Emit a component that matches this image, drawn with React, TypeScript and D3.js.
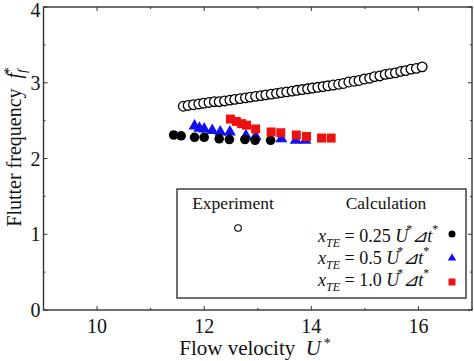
import React from "react";
import * as d3 from "d3";

const expU = [11.61, 11.70, 11.80, 11.90, 11.99, 12.09, 12.19, 12.28, 12.38, 12.48, 12.57, 12.67, 12.77, 12.86, 12.96, 13.06, 13.15, 13.25, 13.35, 13.44, 13.54, 13.64, 13.73, 13.83, 13.93, 14.02, 14.12, 14.22, 14.31, 14.41, 14.51, 14.60, 14.70, 14.80, 14.89, 14.99, 15.09, 15.18, 15.28, 15.38, 15.47, 15.57, 15.67, 15.76, 15.86, 15.96, 16.07];
const expF = [2.69, 2.70, 2.71, 2.72, 2.73, 2.74, 2.75, 2.75, 2.76, 2.77, 2.78, 2.79, 2.80, 2.81, 2.82, 2.83, 2.84, 2.85, 2.86, 2.87, 2.88, 2.89, 2.90, 2.91, 2.92, 2.93, 2.94, 2.95, 2.96, 2.97, 2.98, 2.99, 3.01, 3.02, 3.03, 3.05, 3.06, 3.08, 3.09, 3.11, 3.12, 3.13, 3.15, 3.16, 3.18, 3.19, 3.21];

const calc025U = [11.43, 11.57, 11.82, 12.00, 12.28, 12.47, 12.76, 12.95, 13.24];
const calc025F = [2.31, 2.30, 2.28, 2.28, 2.26, 2.25, 2.25, 2.24, 2.24];

const calc05U = [11.82, 11.91, 12.00, 12.15, 12.30, 12.48, 12.78, 12.96, 13.44, 13.71, 13.89];
const calc05F = [2.43, 2.40, 2.39, 2.37, 2.35, 2.35, 2.30, 2.29, 2.26, 2.24, 2.24];

const calc10U = [12.49, 12.60, 12.70, 12.79, 12.96, 13.25, 13.43, 13.72, 13.91, 14.19, 14.37];
const calc10F = [2.52, 2.49, 2.46, 2.44, 2.39, 2.35, 2.34, 2.31, 2.29, 2.27, 2.27];

const xMajorTicks = [10, 12, 14, 16];
const xMinorTicks = [9, 11, 13, 15, 17];
const yMajorTicks = [0, 1, 2, 3, 4];
const yMinorTicks = [0.5, 1.5, 2.5, 3.5];

const legendRows = ["0.25", "0.5", "1.0"];

const FONT = "'Liberation Serif', 'Times New Roman', serif";
const AX = "#333";

export default function App() {
  const left = 43.5, right = 472, top = 7, bottom = 310;
  const x = d3.scaleLinear().domain([9, 17]).range([left, right]);
  const y = d3.scaleLinear().domain([0, 4]).range([bottom, top]);
  const tri = d3.symbol().type(d3.symbolTriangle).size(62)() as string;
  const triSmall = d3.symbol().type(d3.symbolTriangle).size(30)() as string;

  const rowY = [242, 264, 286];
  const markerColors = ["#000", "#1010f0", "#ee1111"];

  return (
    <svg width={474} height={361} style={{ position: "absolute", left: 0, top: 0, background: "#fff" }} fontFamily={FONT}>
      <rect x={0} y={0} width={474} height={361} fill="#fff" />
      {/* frame */}
      <rect x={left} y={top} width={right - left} height={bottom - top} fill="none" stroke={AX} strokeWidth={1.4} />
      {/* x ticks */}
      {xMajorTicks.map((t) => (
        <g key={"xm" + t}>
          <line x1={x(t)} x2={x(t)} y1={bottom} y2={bottom - 4} stroke={AX} />
          <line x1={x(t)} x2={x(t)} y1={top} y2={top + 4} stroke={AX} />
          <text x={x(t)} y={bottom + 23} fontSize={20} textAnchor="middle" fill="#111">{t}</text>
        </g>
      ))}
      {xMinorTicks.map((t) => (
        <g key={"xn" + t}>
          <line x1={x(t)} x2={x(t)} y1={bottom} y2={bottom - 2} stroke={AX} />
          <line x1={x(t)} x2={x(t)} y1={top} y2={top + 2} stroke={AX} />
        </g>
      ))}
      {yMajorTicks.map((t) => (
        <g key={"ym" + t}>
          <line x1={left} x2={left + 4} y1={y(t)} y2={y(t)} stroke={AX} />
          <line x1={right} x2={right - 4} y1={y(t)} y2={y(t)} stroke={AX} />
          <text x={left - 3} y={Math.max(y(t) + 7, 17)} fontSize={20} textAnchor="end" fill="#111">{t}</text>
        </g>
      ))}
      {yMinorTicks.map((t) => (
        <g key={"yn" + t}>
          <line x1={left} x2={left + 2} y1={y(t)} y2={y(t)} stroke={AX} />
          <line x1={right} x2={right - 2} y1={y(t)} y2={y(t)} stroke={AX} />
        </g>
      ))}
      {/* axis titles */}
      <text x={255} y={355} fontSize={21} textAnchor="middle" fill="#111">
        Flow velocity{"\u00a0\u00a0"}<tspan fontStyle="italic">U</tspan>
        <tspan fontSize={14} dy={-7}>{"\u2009*"}</tspan>
      </text>
      <text transform="translate(21,147) rotate(-90)" fontSize={20} textAnchor="middle" fill="#111">
        Flutter frequency{"\u00a0\u00a0"}<tspan fontStyle="italic">f</tspan>
        <tspan fontStyle="italic" fontSize={13} dy={5}>f</tspan>
        <tspan fontSize={14} dx={-5} dy={-12}>*</tspan>
      </text>

      {/* experiment */}
      {expU.map((u, i) => (
        <circle key={"e" + i} cx={x(u)} cy={y(expF[i])} r={4.8} fill="#fff" stroke="#000" strokeWidth={1.3} />
      ))}
      {/* calc 0.5 */}
      {calc05U.map((u, i) => (
        <path key={"b" + i} d={tri} transform={`translate(${x(u)},${y(calc05F[i])})`} fill={markerColors[1]} />
      ))}
      {/* calc 0.25 */}
      {calc025U.map((u, i) => (
        <circle key={"k" + i} cx={x(u)} cy={y(calc025F[i])} r={4.8} fill="#000" />
      ))}
      {/* calc 1.0 */}
      {calc10U.map((u, i) => (
        <rect key={"r" + i} x={x(u) - 4.5} y={y(calc10F[i]) - 4.5} width={9} height={9} fill={markerColors[2]} />
      ))}

      {/* legend */}
      <rect x={177} y={189} width={289} height={109} fill="#fff" stroke={AX} strokeWidth={1.4} />
      <text x={233} y={209} fontSize={17.5} textAnchor="middle" fill="#111">Experiment</text>
      <text x={386} y={209} fontSize={17.5} textAnchor="middle" fill="#111">Calculation</text>
      <circle cx={238} cy={228} r={3.3} fill="#fff" stroke="#000" strokeWidth={1.1} />
      {legendRows.map((v, i) => (
        <g key={"lr" + i}>
          <text x={318} y={rowY[i]} fontSize={18} fill="#111">
            <tspan fontStyle="italic">x</tspan>
            <tspan fontStyle="italic" fontSize={12} dy={5}>TE</tspan>
            <tspan dy={-5}>{" = " + v + " "}</tspan>
            <tspan fontStyle="italic">U</tspan>
            <tspan fontSize={12} dx={-2} dy={-9}>*</tspan>
            <tspan fontStyle="italic" dy={9}>{"\u22BFt"}</tspan>
            <tspan fontSize={12} dy={-9}>*</tspan>
          </text>
          {i === 0 && <circle cx={452} cy={rowY[i] - 8} r={3.5} fill="#000" />}
          {i === 1 && <path d={triSmall} transform={`translate(452,${rowY[i] - 6})`} fill={markerColors[1]} />}
          {i === 2 && <rect x={448.5} y={rowY[i] - 3.5 - 4} width={7} height={7} fill={markerColors[2]} />}
        </g>
      ))}
    </svg>
  );
}
